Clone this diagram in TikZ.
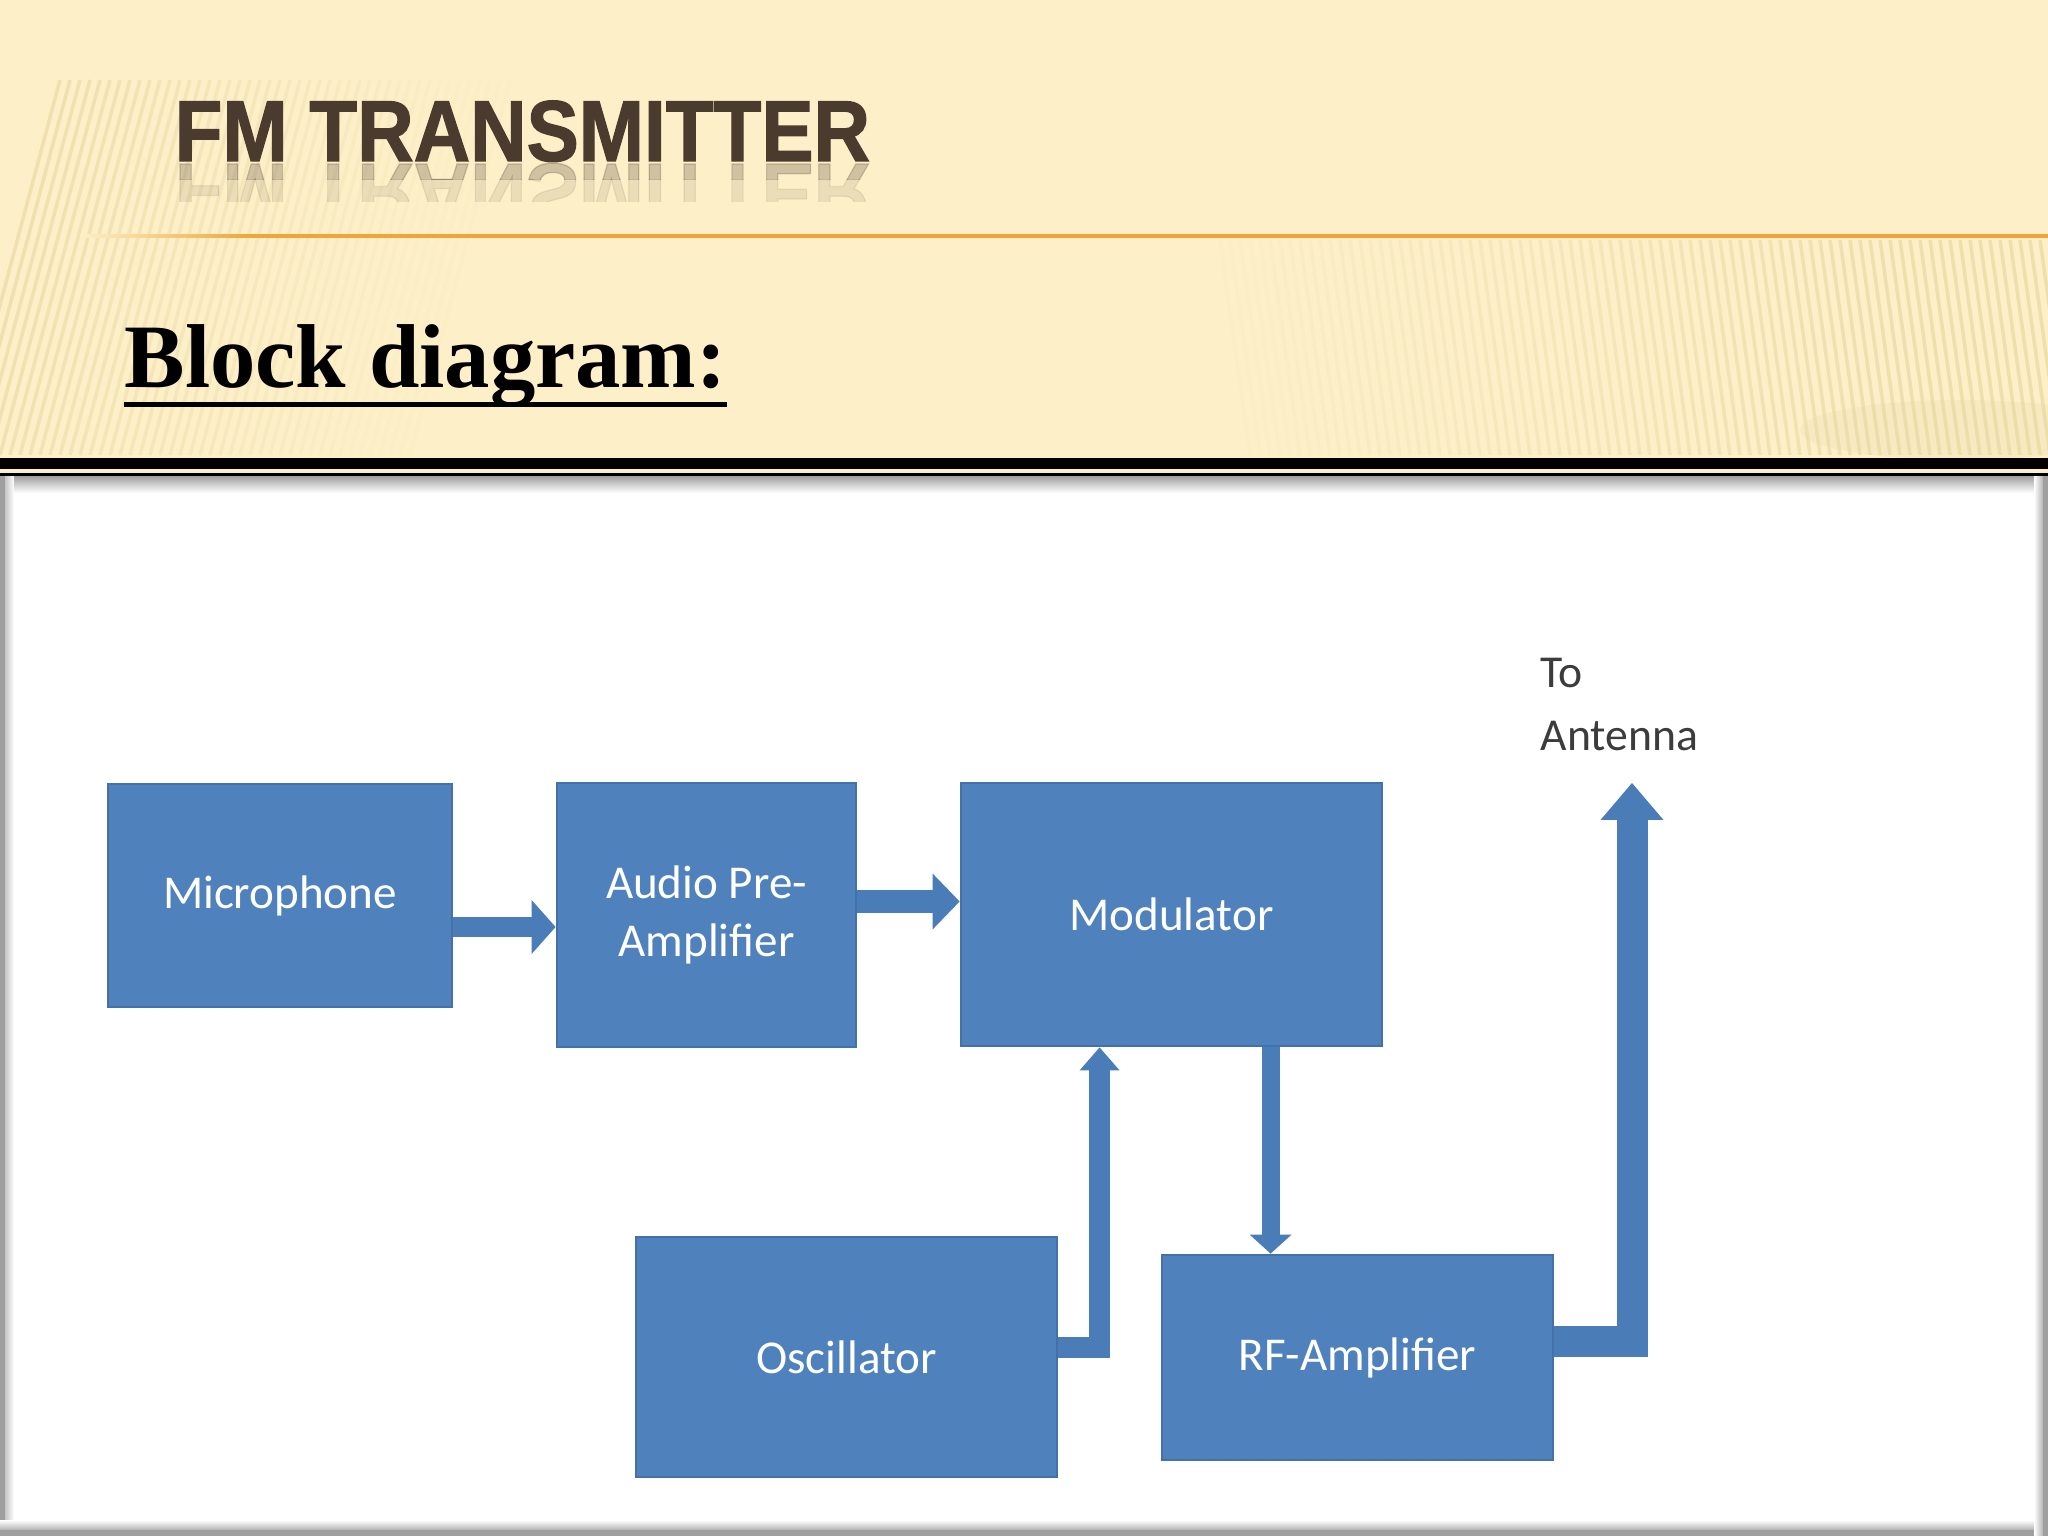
\documentclass[tikz,border=0pt]{standalone}
\usepackage{fontspec}
\setmainfont{Carlito}
\newfontfamily\titlefont{Liberation Sans}[BoldFeatures={FakeBold=1.5}]
\newfontfamily\serifb{Liberation Serif}
\usetikzlibrary{arrows.meta,calc}
\definecolor{cream}{HTML}{FDF0C8}
\definecolor{stripe}{HTML}{E6D49C}
\definecolor{boxblue}{HTML}{4F81BD}
\definecolor{boxedge}{HTML}{4472A8}
\definecolor{arrowblue}{HTML}{4A7CB8}
\definecolor{titlebrown}{HTML}{4A3B2E}
\definecolor{orangeline}{HTML}{EFA53A}
\definecolor{labelgray}{HTML}{3C3C3C}
\tikzset{
  blockbox/.style={rectangle, fill=boxblue, draw=boxedge, line width=0.8pt, inner sep=0pt,
    text=white, font=\fontsize{13.4}{16.4}\selectfont, align=center},
  pipe/.style n args={3}{draw=arrowblue, line width=#1, line join=miter,
    -{Triangle[width=#2,length=#3,line width=0pt]}},
  stripeline/.style={draw=stripe, line width=0.035cm}
}
\begin{document}
\begin{tikzpicture}
\useasboundingbox (0,0) rectangle (20.48,-15.36);
% header background
\fill[cream] (0,0) rectangle (20.48,-4.58);
\foreach \i in {0,...,45} {
  \pgfmathsetmacro{\op}{max(0.05,0.55-\i*0.012)}
  \draw[stripeline, opacity=\op] (\i*0.1+0.6,-0.8) -- (\i*0.1-0.4,-4.55);
}
\foreach \i in {0,...,85} {
  \pgfmathsetmacro{\op}{min(0.6,0.05+\i*0.008)}
  \draw[stripeline, opacity=\op] (12.2+\i*0.1,-2.4) -- (12.5+\i*0.1,-4.55);
}
\fill[stripe, opacity=0.18] (19.6,-4.3) ellipse (1.6 and 0.3);
% orange rule
\shade[left color=cream, right color=orangeline] (0.8,-2.345) rectangle (2.5,-2.38);
\fill[orangeline] (2.5,-2.345) rectangle (20.48,-2.38);
% title
\node[anchor=base west, inner sep=0pt, text=titlebrown,
  font=\titlefont\bfseries\fontsize{24.6}{28}\selectfont] (title) at (1.74,-1.61)
  {\scalebox{0.905}[1]{FM TRANSMITTER}};
\begin{scope}
  \clip (1.5,-1.62) rectangle (9.5,-1.80);
  \node[anchor=base west, inner sep=0pt, text=titlebrown, text opacity=0.25,
    font=\titlefont\bfseries\fontsize{24.6}{28}\selectfont] (titlerefa) at (1.74,-1.64)
    {\scalebox{0.905}[-1]{FM TRANSMITTER}};
\end{scope}
\begin{scope}
  \clip (1.5,-1.80) rectangle (9.5,-2.02);
  \node[anchor=base west, inner sep=0pt, text=titlebrown, text opacity=0.1,
    font=\titlefont\bfseries\fontsize{24.6}{28}\selectfont] (titlerefb) at (1.74,-1.64)
    {\scalebox{0.905}[-1]{FM TRANSMITTER}};
\end{scope}
% subtitle
\node[anchor=base west, inner sep=0pt, font=\serifb\bfseries\fontsize{25.8}{30}\selectfont]
  (bd) at (1.24,-3.88) {Block diagram:};
\draw[line width=0.05cm] ([yshift=-0.165cm]bd.base west) -- ([yshift=-0.165cm]bd.base east);
% separator lines
\fill[black] (0,-4.58) rectangle (20.48,-4.69);
\fill[cream] (0,-4.69) rectangle (20.48,-4.73);
\fill[black] (0,-4.73) rectangle (20.48,-4.77);
% content area
\fill[white] (0,-4.77) rectangle (20.48,-15.36);
\shade[top color=gray!70, bottom color=white] (0,-4.77) rectangle (20.48,-4.93);
\fill[gray!75] (0,-4.77) rectangle (0.05,-15.36);
\shade[left color=gray!45, right color=white] (0.05,-4.77) rectangle (0.14,-15.36);
\shade[top color=white, bottom color=gray!60] (0,-15.20) rectangle (20.48,-15.30);
\fill[gray!75] (0,-15.30) rectangle (20.48,-15.36);
\shade[left color=white, right color=gray!60] (20.34,-4.77) rectangle (20.43,-15.36);
\fill[gray!75] (20.43,-4.77) rectangle (20.48,-15.36);
% blocks
\node[blockbox, minimum width=3.44cm, minimum height=2.23cm] (mic) at (2.80,-8.955) {Microphone};
\node[blockbox, minimum width=2.99cm, minimum height=2.64cm] (pre) at (7.065,-9.15) {Audio Pre-\\Amplifier};
\node[blockbox, minimum width=4.21cm, minimum height=2.63cm] (mod) at (11.715,-9.145) {Modulator};
\node[blockbox, minimum width=4.21cm, minimum height=2.40cm] (osc) at (8.465,-13.57) {Oscillator};
\node[blockbox, minimum width=3.91cm, minimum height=2.05cm] (rf) at (13.575,-13.575) {RF-Amplifier};
% antenna label
\node[anchor=north west, inner sep=0pt, align=left, text=labelgray,
  font=\fontsize{13}{18}\selectfont] (antlabel) at (15.40,-6.57) {To\\Antenna};
% connectors
\coordinate (m1) at ($(mod.south west)+(1.40,0)$);
\coordinate (m2) at ($(mod.south west)+(3.11,0)$);
\coordinate (ant) at (16.32,-7.83);
\draw[pipe={0.20cm}{0.54cm}{0.24cm}] (mic.east |- 0,-9.27) -- (pre.west |- 0,-9.27);
\draw[pipe={0.23cm}{0.56cm}{0.27cm}] (pre.east |- 0,-9.015) -- (mod.west |- 0,-9.015);
\draw[pipe={0.21cm}{0.40cm}{0.23cm}] (osc.east |- 0,-13.47) -| (m1);
\draw[pipe={0.18cm}{0.42cm}{0.19cm}] (m2) -- (m2 |- rf.north);
\draw[pipe={0.31cm}{0.63cm}{0.37cm}] (rf.east |- 0,-13.415) -| (ant);
\end{tikzpicture}
\end{document}
